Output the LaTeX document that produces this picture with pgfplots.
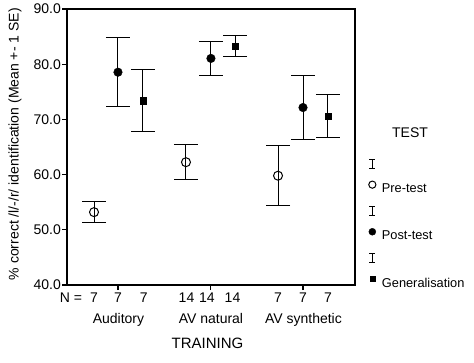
\documentclass[border=0pt]{standalone}
\usepackage{pgfplots}
\pgfplotsset{compat=1.18}
\usepackage{fontspec}
\setmainfont{Liberation Sans}
\pgfplotstableread{
x y e
0.741 53.2 1.9
1.735 62.25 3.15
2.73 59.8 5.4
}\pretest
\pgfplotstableread{
x y e
1.0 78.55 6.25
2.005 81.05 3.15
3.0 72.15 5.85
}\posttest
\pgfplotstableread{
x y e
1.27 73.4 5.6
2.265 83.3 1.9
3.27 70.6 3.9
}\gentest
\pgfplotsset{
  testleg/.style={legend image code/.code={
    \draw[line width=0.9bp,black] (0bp,20.5bp)--(0bp,29.5bp) (-3bp,20.5bp)--(3bp,20.5bp) (-3bp,29.5bp)--(3bp,29.5bp);
    \draw[mark size=#1] plot coordinates {(0bp,4.5bp)};
  }},
  ebar/.style={error bars/.cd, y dir=both, y explicit,
  error bar style={line width=1bp, black},
  error mark options={rotate=90, black, mark size=12bp, line width=1bp}}
}
\begin{document}
\begin{tikzpicture}
\path[use as bounding box] (-67bp,-78bp) rectangle (407bp,285bp);
\begin{axis}[
  at={(0,0)}, anchor=south west,
  scale only axis, width=288bp, height=276bp,
  xmin=0.449, xmax=3.562, ymin=40, ymax=90,
  xtick={1,2,3}, xticklabels={,,},
  ytick={40,50,60,70,80,90},
  yticklabel style={/pgf/number format/fixed, /pgf/number format/fixed zerofill, /pgf/number format/precision=1, /pgf/number format/assume math mode=true},
  yticklabel style={font=\fontsize{14bp}{16bp}\selectfont, inner sep=1bp},
  tick align=outside, major tick length=5bp,
  xtick pos=bottom, ytick pos=left,
  axis line style={line width=1.1bp, black},
  major tick style={line width=1.1bp, black},
  clip=false,
  ylabel={\% correct /l/-/r/ identification (Mean +- 1 SE)},
  ylabel style={at={(axis description cs:-0.1806,0.51)}, anchor=center, font=\fontsize{14bp}{16bp}\selectfont},
  legend style={at={(1.047,0.4565)}, anchor=north west, draw=none, fill=none, inner sep=0pt,
    font=\fontsize{12.8bp}{15bp}\selectfont, row sep=10bp, column sep=4bp},
  legend cell align=left,
]
\addplot[only marks, black, mark=o, mark size=4.5bp, mark options={line width=1bp}, testleg=3.6bp, ebar]
  table[x=x, y=y, y error=e] {\pretest};
\addlegendentry{Pre-test}
\addplot[only marks, black, mark=*, mark size=4.3bp, testleg=3.5bp, ebar]
  table[x=x, y=y, y error=e] {\posttest};
\addlegendentry{Post-test}
\addplot[only marks, black, mark=square*, mark size=3.2bp, testleg=2.4bp, ebar]
  table[x=x, y=y, y error=e] {\gentest};
\addlegendentry{Generalisation}
% text labels
\node[font=\fontsize{14bp}{16bp}\selectfont] at (axis description cs:1.191,0.551) {TEST};
\begin{scope}[every node/.style={font=\fontsize{14bp}{16bp}\selectfont, anchor=base, inner sep=0pt}]
\node[yshift=-17.5bp] at (axis cs:0.492,40) {N =};
\node[yshift=-17.5bp] at (axis cs:0.741,40) {7};
\node[yshift=-17.5bp] at (axis cs:1.0,40) {7};
\node[yshift=-17.5bp] at (axis cs:1.28,40) {7};
\node[yshift=-17.5bp] at (axis cs:1.741,40) {14};
\node[yshift=-17.5bp] at (axis cs:1.962,40) {14};
\node[yshift=-17.5bp] at (axis cs:2.238,40) {14};
\node[yshift=-17.5bp] at (axis cs:2.73,40) {7};
\node[yshift=-17.5bp] at (axis cs:3.0,40) {7};
\node[yshift=-17.5bp] at (axis cs:3.27,40) {7};
\node[yshift=-38bp] at (axis cs:1.005,40) {Auditory};
\node[yshift=-38bp] at (axis cs:2.005,40) {AV natural};
\node[yshift=-38bp] at (axis cs:3.005,40) {AV synthetic};
\node[yshift=-63bp, font=\fontsize{15bp}{17bp}\selectfont] at (axis cs:1.968,40) {TRAINING};
\end{scope}
\end{axis}
\end{tikzpicture}
\end{document}
